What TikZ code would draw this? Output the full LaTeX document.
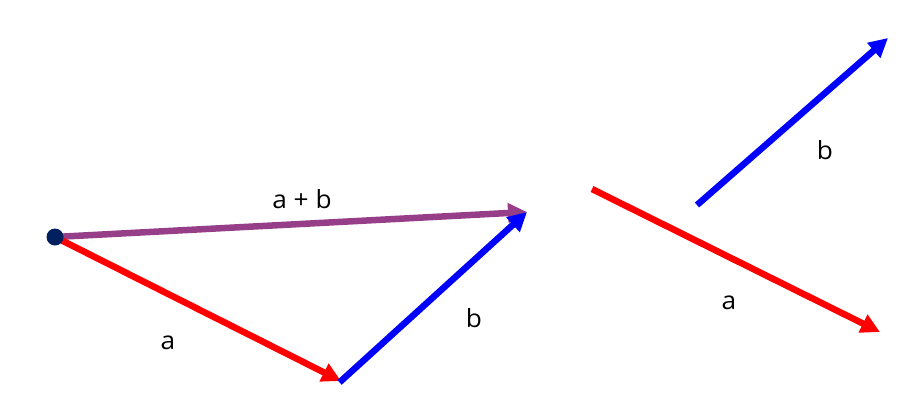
\documentclass[tikz,border=0pt]{standalone}
\usepackage{fontspec}
\setmainfont{Open Sans}[FakeStretch=1.05]
\usetikzlibrary{arrows.meta}
\definecolor{vred}{RGB}{255,0,0}
\definecolor{vblue}{RGB}{0,0,255}
\definecolor{vpurple}{RGB}{150,62,135}
\definecolor{vnavy}{RGB}{0,32,96}
\tikzset{
  vec/.style={line width=6.5pt, -{Triangle[length=19pt,width=19pt]}},
  lbl/.style={font=\fontsize{25}{30}\selectfont, inner sep=0pt}
}
\begin{document}
\begin{tikzpicture}[x=1pt,y=-1pt]
\useasboundingbox (0,0) rectangle (922,400);
% left figure
\coordinate (o) at (55,237);
\coordinate (p) at (341,381);
\coordinate (q) at (527,212);
\draw[vec, vpurple] (o) -- (q);
\draw[vec, vred] (o) -- (p);
\draw[vec, vblue, shorten <=-2pt] (p) -- (q);
\node[circle, fill=vnavy, minimum size=17pt, inner sep=0pt] (dot) at (o) {};
\node[lbl] (lab) at (302,199) {a + b};
\node[lbl] (la) at (168,343) {a};
\node[lbl] (lb) at (474,318) {b};
% right figure
\coordinate (bs) at (697,205);
\coordinate (be) at (888,38);
\coordinate (as) at (592,189);
\coordinate (ae) at (880,332);
\draw[vec, vblue] (bs) -- (be);
\draw[vec, vred] (as) -- (ae);
\node[lbl] (rb) at (825,150) {b};
\node[lbl] (ra) at (729,303) {a};
\end{tikzpicture}
\end{document}
